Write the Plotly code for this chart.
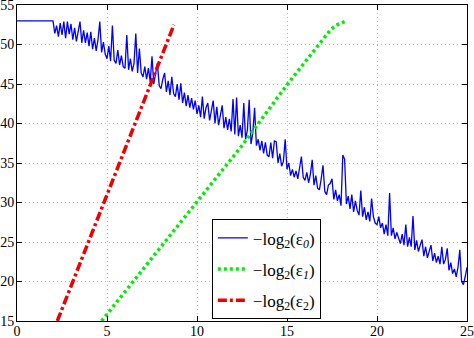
import plotly.graph_objects as go

# Blue series: flat start then noisy decrease (x step 0.1 from 2.0 to 25.0)
blue_x_start = [0.0]
blue_y_start = [53.0]
blue_x0 = 2.0
blue_step = 0.1
blue_y = [
    53.0, 51.4, 52.4, 51.0, 52.7, 51.2, 52.9, 50.8, 52.9, 51.3,
    52.6, 50.6, 52.1, 50.4, 51.9, 52.9, 50.2, 51.8, 50.2, 51.5,
    49.8, 51.6, 49.4, 50.8, 49.2, 50.6, 52.9, 49.0, 50.3, 48.8,
    48.2, 49.8, 47.9, 52.4, 48.0, 47.6, 49.3, 47.4, 48.6, 47.2,
    47.0, 51.2, 46.8, 48.2, 46.6, 47.6, 51.4, 46.4, 49.5, 46.4,
    45.9, 47.2, 45.6, 47.0, 45.3, 48.5, 45.0, 46.4, 47.6, 44.8,
    44.4, 45.6, 46.4, 44.0, 45.4, 43.6, 45.9, 43.8, 43.4, 45.0,
    43.0, 45.1, 42.6, 43.9, 42.2, 43.6, 42.0, 43.2, 41.8, 42.9,
    41.2, 42.3, 40.8, 43.4, 40.6, 42.0, 42.6, 40.4, 41.6, 42.9,
    40.0, 42.1, 39.8, 41.0, 42.3, 39.4, 40.8, 39.2, 40.6, 39.0,
    43.1, 38.6, 43.3, 38.4, 39.8, 38.2, 42.6, 38.0, 39.2, 43.0,
    37.4, 38.8, 42.0, 37.2, 38.0, 36.6, 37.8, 36.2, 37.6, 36.0,
    35.8, 37.6, 35.6, 37.8, 37.7, 35.0, 36.2, 34.6, 35.2, 38.0,
    34.2, 35.0, 33.4, 34.2, 33.2, 34.0, 33.0, 34.4, 35.8, 33.2,
    32.8, 33.8, 32.5, 33.6, 35.4, 32.2, 33.4, 31.8, 31.6, 33.0,
    34.7, 31.4, 31.0, 32.2, 32.4, 33.0, 30.4, 31.6, 30.2, 31.0,
    29.6, 36.0, 35.5, 29.8, 30.8, 29.2, 31.0, 28.8, 30.2, 29.0,
    28.4, 31.5, 28.2, 29.4, 27.8, 28.8, 27.6, 30.5, 28.2, 27.4,
    27.2, 28.2, 26.8, 27.4, 26.0, 27.2, 25.8, 31.2, 25.8, 26.8,
    25.4, 26.2, 25.6, 24.8, 26.0, 24.6, 27.2, 24.4, 25.6, 24.4,
    28.3, 24.0, 25.2, 23.8, 24.6, 25.3, 23.2, 24.4, 23.0, 23.8,
    24.6, 22.6, 23.6, 22.4, 23.2, 22.2, 24.4, 22.2, 22.8, 24.2,
    21.4, 22.4, 21.0, 21.6, 20.6, 21.8, 24.0, 20.0, 19.6, 20.6,
    21.8,
]

green_x = [4.7, 10.0, 12.5, 15.0, 16.7, 17.4, 17.7, 18.2]
green_y = [15.0, 30.0, 37.2, 44.9, 49.9, 51.8, 52.4, 52.9]

red_x = [2.24, 8.72]
red_y = [15.0, 52.5]

x_ticks = [0, 5, 10, 15, 20, 25]
y_ticks = [15, 20, 25, 30, 35, 40, 45, 50, 55]

blue_x = blue_x_start + [round(blue_x0 + i * blue_step, 2) for i in range(len(blue_y))]
blue_all = blue_y_start + blue_y

SERIF = "Liberation Serif"

fig = go.Figure()
fig.add_trace(go.Scatter(
    x=blue_x, y=blue_all, mode="lines",
    line=dict(color="#0000ff", width=1.3),
    name="−log<sub>2</sub>(ε<sub><i>0</i></sub>)", legendgroup="a"))
fig.add_trace(go.Scatter(
    x=green_x, y=green_y, mode="lines",
    line=dict(color="#00ee00", width=3.5, dash="3px,3px"),
    name="−log<sub>2</sub>(ε<sub><i>1</i></sub>)", legendgroup="b"))
fig.add_trace(go.Scatter(
    x=red_x, y=red_y, mode="lines",
    line=dict(color="#ee0000", width=3.5, dash="9px,3px,3px,3px"),
    name="−log<sub>2</sub>(ε<sub>2</sub>)", legendgroup="c"))

axis_common = dict(
    showline=True, linecolor="black", linewidth=1, mirror="ticks",
    ticks="inside", ticklen=5, tickcolor="black",
    showgrid=True, gridcolor="#b8b8b8", griddash="1px,3px", gridwidth=1,
    zeroline=False, automargin=False, ticklabeloverflow="allow",
    tickfont=dict(family=SERIF, size=14, color="black"),
)
fig.update_xaxes(range=[0, 25], tickvals=x_ticks, ticklabelstandoff=-3, **axis_common)
fig.update_yaxes(range=[15, 55], tickvals=y_ticks, ticklabelstandoff=-1, **axis_common)

fig.update_layout(
    width=474, height=338,
    margin=dict(l=17, r=7, t=5, b=17),
    plot_bgcolor="white", paper_bgcolor="white",
    showlegend=True,
    font=dict(family=SERIF),
    legend=dict(
        x=0.433, y=0.005, xanchor="left", yanchor="bottom",
        bgcolor="white", bordercolor="black", borderwidth=1,
        font=dict(family=SERIF, size=17, color="black"),
        tracegroupgap=6,
    ),
)

fig.write_html("out.html")
